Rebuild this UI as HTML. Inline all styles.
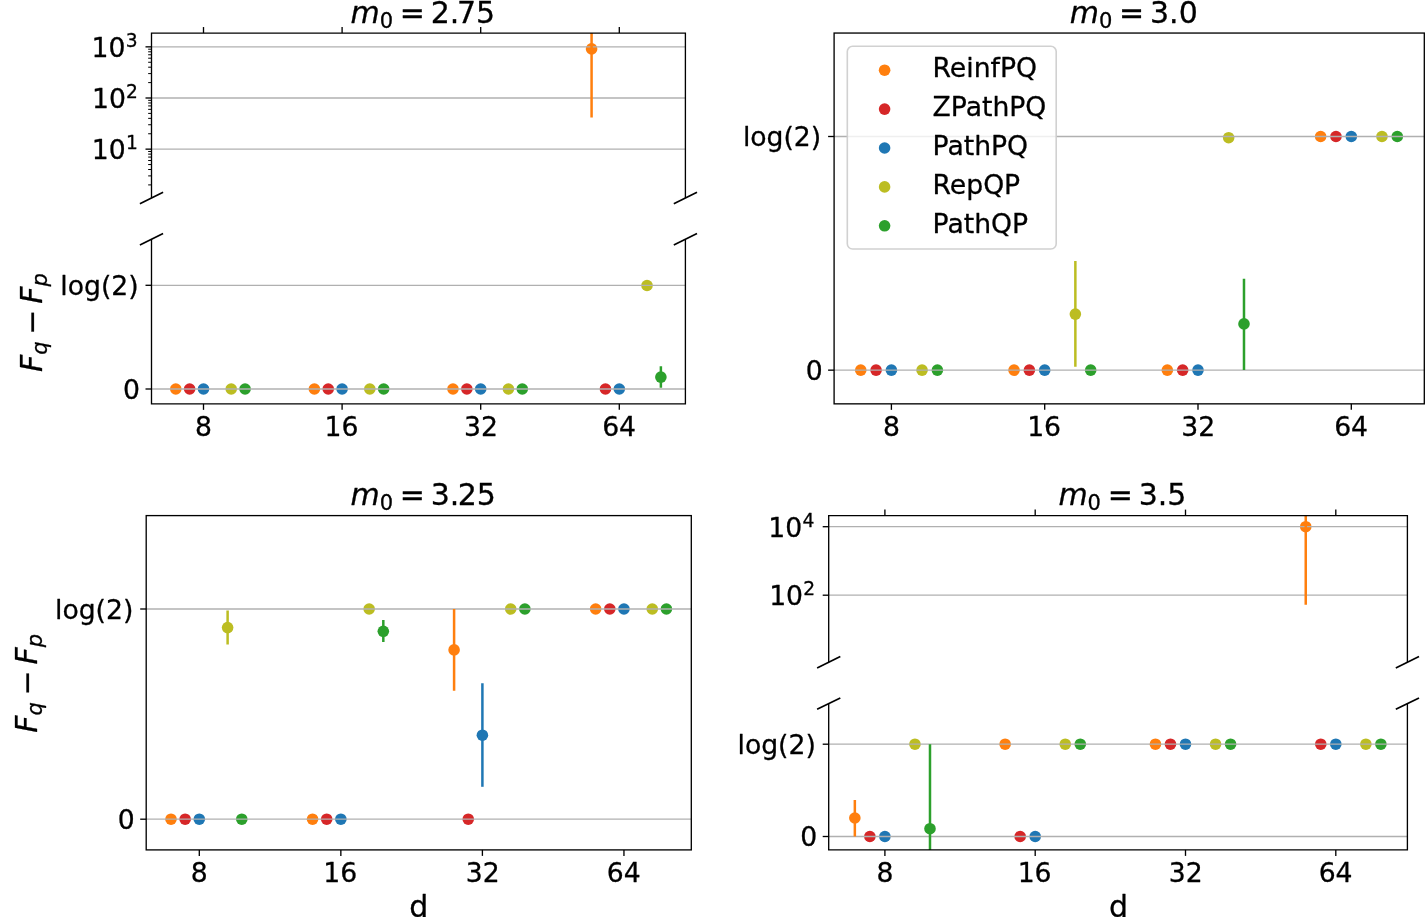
<!DOCTYPE html>
<html lang="en"><head><meta charset="utf-8"><title>F_q - F_p vs d</title>
<style>html,body{margin:0;padding:0;background:#fff}svg{display:block}text{stroke:#000;stroke-width:0.3px;stroke-linejoin:round}</style></head>
<body>
<svg width="1425" height="917" viewBox="0 0 1425 917" font-family="'DejaVu Sans', 'Liberation Sans', sans-serif" fill="#000">
<rect width="1425" height="917" fill="#fff"/>
<clipPath id="c1"><rect x="151.50" y="33.05" width="533.90" height="164.95"/></clipPath>
<g clip-path="url(#c1)">
<circle cx="591.58" cy="48.90" r="5.8" fill="#ff7f0e"/>
</g>
<line x1="151.50" y1="46.85" x2="685.40" y2="46.85" stroke="#b0b0b0" stroke-width="1.333" />
<line x1="151.50" y1="98.00" x2="685.40" y2="98.00" stroke="#b0b0b0" stroke-width="1.333" />
<line x1="151.50" y1="149.15" x2="685.40" y2="149.15" stroke="#b0b0b0" stroke-width="1.333" />
<g clip-path="url(#c1)">
<line x1="591.58" y1="20.00" x2="591.58" y2="117.40" stroke="#ff7f0e" stroke-width="2.5" />
</g>
<clipPath id="c2"><rect x="151.50" y="239.30" width="533.90" height="164.55"/></clipPath>
<g clip-path="url(#c2)">
<circle cx="175.78" cy="389.00" r="5.8" fill="#ff7f0e"/>
<circle cx="189.64" cy="389.00" r="5.8" fill="#d62728"/>
<circle cx="203.50" cy="389.00" r="5.8" fill="#1f77b4"/>
<circle cx="231.22" cy="389.00" r="5.8" fill="#bcbd22"/>
<circle cx="245.08" cy="389.00" r="5.8" fill="#2ca02c"/>
<circle cx="314.38" cy="389.00" r="5.8" fill="#ff7f0e"/>
<circle cx="328.24" cy="389.00" r="5.8" fill="#d62728"/>
<circle cx="342.10" cy="389.00" r="5.8" fill="#1f77b4"/>
<circle cx="369.82" cy="389.00" r="5.8" fill="#bcbd22"/>
<circle cx="383.68" cy="389.00" r="5.8" fill="#2ca02c"/>
<circle cx="452.98" cy="389.00" r="5.8" fill="#ff7f0e"/>
<circle cx="466.84" cy="389.00" r="5.8" fill="#d62728"/>
<circle cx="480.70" cy="389.00" r="5.8" fill="#1f77b4"/>
<circle cx="508.42" cy="389.00" r="5.8" fill="#bcbd22"/>
<circle cx="522.28" cy="389.00" r="5.8" fill="#2ca02c"/>
<circle cx="605.44" cy="389.00" r="5.8" fill="#d62728"/>
<circle cx="619.30" cy="389.00" r="5.8" fill="#1f77b4"/>
<circle cx="647.02" cy="285.50" r="5.8" fill="#bcbd22"/>
<circle cx="660.88" cy="377.10" r="5.8" fill="#2ca02c"/>
</g>
<line x1="151.50" y1="389.00" x2="685.40" y2="389.00" stroke="#b0b0b0" stroke-width="1.333" />
<line x1="151.50" y1="285.30" x2="685.40" y2="285.30" stroke="#b0b0b0" stroke-width="1.333" />
<g clip-path="url(#c2)">
<line x1="660.88" y1="366.30" x2="660.88" y2="387.70" stroke="#2ca02c" stroke-width="2.5" />
</g>
<path d="M151.5 198.0V33.05H685.4V198.0" fill="none" stroke="#000" stroke-width="1.333" stroke-linejoin="miter"/>
<path d="M151.5 239.3V403.85H685.4V239.3" fill="none" stroke="#000" stroke-width="1.333" stroke-linejoin="miter"/>
<line x1="203.50" y1="33.05" x2="203.50" y2="27.05" stroke="#000" stroke-width="1.333" />
<line x1="342.10" y1="33.05" x2="342.10" y2="27.05" stroke="#000" stroke-width="1.333" />
<line x1="480.70" y1="33.05" x2="480.70" y2="27.05" stroke="#000" stroke-width="1.333" />
<line x1="619.30" y1="33.05" x2="619.30" y2="27.05" stroke="#000" stroke-width="1.333" />
<line x1="203.50" y1="403.85" x2="203.50" y2="409.85" stroke="#000" stroke-width="1.333" />
<text x="195.03" y="436.15" font-size="26.667" >8</text>
<line x1="342.10" y1="403.85" x2="342.10" y2="409.85" stroke="#000" stroke-width="1.333" />
<text x="324.54 341.48" y="436.15" font-size="26.667" >16</text>
<line x1="480.70" y1="403.85" x2="480.70" y2="409.85" stroke="#000" stroke-width="1.333" />
<text x="464.07 481.01" y="436.15" font-size="26.667" >32</text>
<line x1="619.30" y1="403.85" x2="619.30" y2="409.85" stroke="#000" stroke-width="1.333" />
<text x="602.17 619.11" y="436.15" font-size="26.667" >64</text>
<line x1="145.50" y1="46.85" x2="151.50" y2="46.85" stroke="#000" stroke-width="1.333" />
<text x="91.60 108.54" y="56.70" font-size="26.667" >10</text>
<text x="125.74" y="46.75" font-size="18.667" >3</text>
<line x1="145.50" y1="98.00" x2="151.50" y2="98.00" stroke="#000" stroke-width="1.333" />
<text x="91.98 108.92" y="107.85" font-size="26.667" >10</text>
<text x="126.12" y="97.90" font-size="18.667" >2</text>
<line x1="145.50" y1="149.15" x2="151.50" y2="149.15" stroke="#000" stroke-width="1.333" />
<text x="91.83 108.77" y="159.00" font-size="26.667" >10</text>
<text x="125.97" y="149.05" font-size="18.667" >1</text>
<line x1="148.17" y1="184.90" x2="151.50" y2="184.90" stroke="#000" stroke-width="1.0" />
<line x1="148.17" y1="175.90" x2="151.50" y2="175.90" stroke="#000" stroke-width="1.0" />
<line x1="148.17" y1="169.50" x2="151.50" y2="169.50" stroke="#000" stroke-width="1.0" />
<line x1="148.17" y1="164.55" x2="151.50" y2="164.55" stroke="#000" stroke-width="1.0" />
<line x1="148.17" y1="160.50" x2="151.50" y2="160.50" stroke="#000" stroke-width="1.0" />
<line x1="148.17" y1="157.07" x2="151.50" y2="157.07" stroke="#000" stroke-width="1.0" />
<line x1="148.17" y1="154.11" x2="151.50" y2="154.11" stroke="#000" stroke-width="1.0" />
<line x1="148.17" y1="151.49" x2="151.50" y2="151.49" stroke="#000" stroke-width="1.0" />
<line x1="148.17" y1="133.75" x2="151.50" y2="133.75" stroke="#000" stroke-width="1.0" />
<line x1="148.17" y1="124.75" x2="151.50" y2="124.75" stroke="#000" stroke-width="1.0" />
<line x1="148.17" y1="118.35" x2="151.50" y2="118.35" stroke="#000" stroke-width="1.0" />
<line x1="148.17" y1="113.40" x2="151.50" y2="113.40" stroke="#000" stroke-width="1.0" />
<line x1="148.17" y1="109.35" x2="151.50" y2="109.35" stroke="#000" stroke-width="1.0" />
<line x1="148.17" y1="105.92" x2="151.50" y2="105.92" stroke="#000" stroke-width="1.0" />
<line x1="148.17" y1="102.96" x2="151.50" y2="102.96" stroke="#000" stroke-width="1.0" />
<line x1="148.17" y1="100.34" x2="151.50" y2="100.34" stroke="#000" stroke-width="1.0" />
<line x1="148.17" y1="82.60" x2="151.50" y2="82.60" stroke="#000" stroke-width="1.0" />
<line x1="148.17" y1="73.60" x2="151.50" y2="73.60" stroke="#000" stroke-width="1.0" />
<line x1="148.17" y1="67.20" x2="151.50" y2="67.20" stroke="#000" stroke-width="1.0" />
<line x1="148.17" y1="62.25" x2="151.50" y2="62.25" stroke="#000" stroke-width="1.0" />
<line x1="148.17" y1="58.20" x2="151.50" y2="58.20" stroke="#000" stroke-width="1.0" />
<line x1="148.17" y1="54.77" x2="151.50" y2="54.77" stroke="#000" stroke-width="1.0" />
<line x1="148.17" y1="51.81" x2="151.50" y2="51.81" stroke="#000" stroke-width="1.0" />
<line x1="148.17" y1="49.19" x2="151.50" y2="49.19" stroke="#000" stroke-width="1.0" />
<line x1="145.50" y1="389.00" x2="151.50" y2="389.00" stroke="#000" stroke-width="1.333" />
<text x="123.03" y="398.80" font-size="26.667" >0</text>
<line x1="145.50" y1="285.30" x2="151.50" y2="285.30" stroke="#000" stroke-width="1.333" />
<text x="60.29 67.69 83.98 100.88 111.27 128.21" y="295.10" font-size="26.667" >log(2)</text>
<line x1="139.90" y1="203.70" x2="163.10" y2="192.30" stroke="#000" stroke-width="1.667" />
<line x1="139.90" y1="245.00" x2="163.10" y2="233.60" stroke="#000" stroke-width="1.667" />
<line x1="673.80" y1="203.70" x2="697.00" y2="192.30" stroke="#000" stroke-width="1.667" />
<line x1="673.80" y1="245.00" x2="697.00" y2="233.60" stroke="#000" stroke-width="1.667" />
<text x="350.50" y="22.70" font-size="30.000" font-style="italic" >m</text>
<text x="379.72" y="27.62" font-size="21.000" >0</text>
<text x="399.75" y="22.70" font-size="30.000" >=</text>
<text x="430.73 449.82 456.98 476.07" y="22.70" font-size="30.000">2.75</text>
<g transform="translate(42.20,372.00) rotate(-90)">
<text x="0.00" y="0.00" font-size="30.000" font-style="italic" >F</text>
<text x="17.26" y="4.92" font-size="21.000" font-style="italic" >q</text>
<text x="37.25" y="0.00" font-size="30.000" >−</text>
<text x="68.23" y="0.00" font-size="30.000" font-style="italic" >F</text>
<text x="85.49" y="4.92" font-size="21.000" font-style="italic" >p</text>
</g>
<clipPath id="c3"><rect x="834.10" y="33.05" width="590.20" height="370.80"/></clipPath>
<g clip-path="url(#c3)">
<circle cx="860.74" cy="370.15" r="5.8" fill="#ff7f0e"/>
<circle cx="876.07" cy="370.15" r="5.8" fill="#d62728"/>
<circle cx="891.40" cy="370.15" r="5.8" fill="#1f77b4"/>
<circle cx="922.06" cy="370.15" r="5.8" fill="#bcbd22"/>
<circle cx="937.39" cy="370.15" r="5.8" fill="#2ca02c"/>
<circle cx="1014.04" cy="370.15" r="5.8" fill="#ff7f0e"/>
<circle cx="1029.37" cy="370.15" r="5.8" fill="#d62728"/>
<circle cx="1044.70" cy="370.15" r="5.8" fill="#1f77b4"/>
<circle cx="1075.36" cy="314.10" r="5.8" fill="#bcbd22"/>
<circle cx="1090.69" cy="370.15" r="5.8" fill="#2ca02c"/>
<circle cx="1167.34" cy="370.15" r="5.8" fill="#ff7f0e"/>
<circle cx="1182.67" cy="370.15" r="5.8" fill="#d62728"/>
<circle cx="1198.00" cy="370.15" r="5.8" fill="#1f77b4"/>
<circle cx="1228.66" cy="137.70" r="5.8" fill="#bcbd22"/>
<circle cx="1243.99" cy="323.90" r="5.8" fill="#2ca02c"/>
<circle cx="1320.64" cy="136.50" r="5.8" fill="#ff7f0e"/>
<circle cx="1335.97" cy="136.50" r="5.8" fill="#d62728"/>
<circle cx="1351.30" cy="136.50" r="5.8" fill="#1f77b4"/>
<circle cx="1381.96" cy="136.50" r="5.8" fill="#bcbd22"/>
<circle cx="1397.29" cy="136.50" r="5.8" fill="#2ca02c"/>
</g>
<line x1="834.10" y1="370.15" x2="1424.30" y2="370.15" stroke="#b0b0b0" stroke-width="1.333" />
<line x1="834.10" y1="136.50" x2="1424.30" y2="136.50" stroke="#b0b0b0" stroke-width="1.333" />
<g clip-path="url(#c3)">
<line x1="1075.36" y1="261.10" x2="1075.36" y2="366.80" stroke="#bcbd22" stroke-width="2.5" />
<line x1="1243.99" y1="278.70" x2="1243.99" y2="370.00" stroke="#2ca02c" stroke-width="2.5" />
</g>
<rect x="834.1" y="33.05" width="590.20" height="370.80" fill="none" stroke="#000" stroke-width="1.333"/>
<line x1="891.40" y1="403.85" x2="891.40" y2="409.85" stroke="#000" stroke-width="1.333" />
<text x="882.93" y="436.15" font-size="26.667" >8</text>
<line x1="1044.70" y1="403.85" x2="1044.70" y2="409.85" stroke="#000" stroke-width="1.333" />
<text x="1027.14 1044.08" y="436.15" font-size="26.667" >16</text>
<line x1="1198.00" y1="403.85" x2="1198.00" y2="409.85" stroke="#000" stroke-width="1.333" />
<text x="1181.37 1198.31" y="436.15" font-size="26.667" >32</text>
<line x1="1351.30" y1="403.85" x2="1351.30" y2="409.85" stroke="#000" stroke-width="1.333" />
<text x="1334.17 1351.11" y="436.15" font-size="26.667" >64</text>
<line x1="828.10" y1="370.15" x2="834.10" y2="370.15" stroke="#000" stroke-width="1.333" />
<text x="805.63" y="379.95" font-size="26.667" >0</text>
<line x1="828.10" y1="136.50" x2="834.10" y2="136.50" stroke="#000" stroke-width="1.333" />
<text x="742.89 750.29 766.58 783.48 793.87 810.81" y="146.30" font-size="26.667" >log(2)</text>
<text x="1069.80" y="22.70" font-size="30.000" font-style="italic" >m</text>
<text x="1099.02" y="27.62" font-size="21.000" >0</text>
<text x="1119.05" y="22.70" font-size="30.000" >=</text>
<text x="1150.03 1169.12 1178.65" y="22.70" font-size="30.000">3.0</text>
<rect x="847.3" y="46.3" width="208.9" height="202.7" rx="5.3" ry="5.3" fill="#fff" fill-opacity="0.8" stroke="#ccc" stroke-opacity="0.9" stroke-width="1.6"/>
<circle cx="884.6" cy="70.20" r="5.8" fill="#ff7f0e"/>
<text x="932.60 949.85 966.23 973.63 990.50 999.88 1015.93" y="77.40" font-size="26.667" >ReinfPQ</text>
<circle cx="884.6" cy="109.10" r="5.8" fill="#d62728"/>
<text x="932.60 950.84 965.65 981.96 992.40 1009.27 1025.33" y="116.30" font-size="26.667" >ZPathPQ</text>
<circle cx="884.6" cy="148.00" r="5.8" fill="#1f77b4"/>
<text x="932.60 947.41 963.72 974.16 991.04 1007.09" y="155.20" font-size="26.667" >PathPQ</text>
<circle cx="884.6" cy="186.90" r="5.8" fill="#bcbd22"/>
<text x="932.60 949.85 966.23 983.13 1004.09" y="194.10" font-size="26.667" >RepQP</text>
<circle cx="884.6" cy="225.80" r="5.8" fill="#2ca02c"/>
<text x="932.60 947.41 963.72 974.16 991.04 1011.99" y="233.00" font-size="26.667" >PathQP</text>
<clipPath id="c4"><rect x="146.20" y="515.60" width="545.10" height="334.30"/></clipPath>
<g clip-path="url(#c4)">
<circle cx="170.99" cy="819.20" r="5.8" fill="#ff7f0e"/>
<circle cx="185.15" cy="819.20" r="5.8" fill="#d62728"/>
<circle cx="199.30" cy="819.20" r="5.8" fill="#1f77b4"/>
<circle cx="227.61" cy="627.60" r="5.8" fill="#bcbd22"/>
<circle cx="241.77" cy="819.20" r="5.8" fill="#2ca02c"/>
<circle cx="312.54" cy="819.20" r="5.8" fill="#ff7f0e"/>
<circle cx="326.70" cy="819.20" r="5.8" fill="#d62728"/>
<circle cx="340.85" cy="819.20" r="5.8" fill="#1f77b4"/>
<circle cx="369.16" cy="609.00" r="5.8" fill="#bcbd22"/>
<circle cx="383.32" cy="631.30" r="5.8" fill="#2ca02c"/>
<circle cx="454.09" cy="649.90" r="5.8" fill="#ff7f0e"/>
<circle cx="468.25" cy="819.20" r="5.8" fill="#d62728"/>
<circle cx="482.40" cy="735.20" r="5.8" fill="#1f77b4"/>
<circle cx="510.71" cy="609.00" r="5.8" fill="#bcbd22"/>
<circle cx="524.87" cy="609.00" r="5.8" fill="#2ca02c"/>
<circle cx="595.64" cy="609.00" r="5.8" fill="#ff7f0e"/>
<circle cx="609.80" cy="609.00" r="5.8" fill="#d62728"/>
<circle cx="623.95" cy="609.00" r="5.8" fill="#1f77b4"/>
<circle cx="652.26" cy="609.00" r="5.8" fill="#bcbd22"/>
<circle cx="666.41" cy="609.00" r="5.8" fill="#2ca02c"/>
</g>
<line x1="146.20" y1="819.20" x2="691.30" y2="819.20" stroke="#b0b0b0" stroke-width="1.333" />
<line x1="146.20" y1="609.00" x2="691.30" y2="609.00" stroke="#b0b0b0" stroke-width="1.333" />
<g clip-path="url(#c4)">
<line x1="227.61" y1="610.50" x2="227.61" y2="644.40" stroke="#bcbd22" stroke-width="2.5" />
<line x1="383.32" y1="620.00" x2="383.32" y2="641.90" stroke="#2ca02c" stroke-width="2.5" />
<line x1="454.09" y1="609.00" x2="454.09" y2="690.80" stroke="#ff7f0e" stroke-width="2.5" />
<line x1="482.40" y1="683.30" x2="482.40" y2="786.80" stroke="#1f77b4" stroke-width="2.5" />
</g>
<rect x="146.2" y="515.6" width="545.10" height="334.30" fill="none" stroke="#000" stroke-width="1.333"/>
<line x1="199.30" y1="849.90" x2="199.30" y2="855.90" stroke="#000" stroke-width="1.333" />
<text x="190.83" y="882.20" font-size="26.667" >8</text>
<line x1="340.85" y1="849.90" x2="340.85" y2="855.90" stroke="#000" stroke-width="1.333" />
<text x="323.29 340.23" y="882.20" font-size="26.667" >16</text>
<line x1="482.40" y1="849.90" x2="482.40" y2="855.90" stroke="#000" stroke-width="1.333" />
<text x="465.77 482.71" y="882.20" font-size="26.667" >32</text>
<line x1="623.95" y1="849.90" x2="623.95" y2="855.90" stroke="#000" stroke-width="1.333" />
<text x="606.82 623.76" y="882.20" font-size="26.667" >64</text>
<line x1="140.20" y1="819.20" x2="146.20" y2="819.20" stroke="#000" stroke-width="1.333" />
<text x="117.73" y="829.00" font-size="26.667" >0</text>
<line x1="140.20" y1="609.00" x2="146.20" y2="609.00" stroke="#000" stroke-width="1.333" />
<text x="54.99 62.39 78.68 95.58 105.97 122.91" y="618.80" font-size="26.667" >log(2)</text>
<text x="350.50" y="505.20" font-size="30.000" font-style="italic" >m</text>
<text x="379.72" y="510.12" font-size="21.000" >0</text>
<text x="399.75" y="505.20" font-size="30.000" >=</text>
<text x="430.73 449.82 457.73 476.82" y="505.20" font-size="30.000">3.25</text>
<g transform="translate(37.20,732.70) rotate(-90)">
<text x="0.00" y="0.00" font-size="30.000" font-style="italic" >F</text>
<text x="17.26" y="4.92" font-size="21.000" font-style="italic" >q</text>
<text x="37.25" y="0.00" font-size="30.000" >−</text>
<text x="68.23" y="0.00" font-size="30.000" font-style="italic" >F</text>
<text x="85.49" y="4.92" font-size="21.000" font-style="italic" >p</text>
</g>
<text x="409.22" y="917.30" font-size="30.000" >d</text>
<clipPath id="c5"><rect x="828.70" y="515.60" width="578.70" height="146.60"/></clipPath>
<g clip-path="url(#c5)">
<circle cx="1305.74" cy="526.70" r="5.8" fill="#ff7f0e"/>
</g>
<line x1="828.70" y1="526.70" x2="1407.40" y2="526.70" stroke="#b0b0b0" stroke-width="1.333" />
<line x1="828.70" y1="595.20" x2="1407.40" y2="595.20" stroke="#b0b0b0" stroke-width="1.333" />
<g clip-path="url(#c5)">
<line x1="1305.74" y1="500.00" x2="1305.74" y2="604.80" stroke="#ff7f0e" stroke-width="2.5" />
</g>
<clipPath id="c6"><rect x="828.70" y="703.60" width="578.70" height="146.30"/></clipPath>
<g clip-path="url(#c6)">
<circle cx="854.84" cy="818.00" r="5.8" fill="#ff7f0e"/>
<circle cx="869.87" cy="836.50" r="5.8" fill="#d62728"/>
<circle cx="884.90" cy="836.50" r="5.8" fill="#1f77b4"/>
<circle cx="914.96" cy="744.20" r="5.8" fill="#bcbd22"/>
<circle cx="929.99" cy="828.70" r="5.8" fill="#2ca02c"/>
<circle cx="1005.14" cy="744.20" r="5.8" fill="#ff7f0e"/>
<circle cx="1020.17" cy="836.50" r="5.8" fill="#d62728"/>
<circle cx="1035.20" cy="836.50" r="5.8" fill="#1f77b4"/>
<circle cx="1065.26" cy="744.20" r="5.8" fill="#bcbd22"/>
<circle cx="1080.29" cy="744.20" r="5.8" fill="#2ca02c"/>
<circle cx="1155.44" cy="744.20" r="5.8" fill="#ff7f0e"/>
<circle cx="1170.47" cy="744.20" r="5.8" fill="#d62728"/>
<circle cx="1185.50" cy="744.20" r="5.8" fill="#1f77b4"/>
<circle cx="1215.56" cy="744.20" r="5.8" fill="#bcbd22"/>
<circle cx="1230.59" cy="744.20" r="5.8" fill="#2ca02c"/>
<circle cx="1320.77" cy="744.20" r="5.8" fill="#d62728"/>
<circle cx="1335.80" cy="744.20" r="5.8" fill="#1f77b4"/>
<circle cx="1365.86" cy="744.20" r="5.8" fill="#bcbd22"/>
<circle cx="1380.89" cy="744.20" r="5.8" fill="#2ca02c"/>
</g>
<line x1="828.70" y1="836.50" x2="1407.40" y2="836.50" stroke="#b0b0b0" stroke-width="1.333" />
<line x1="828.70" y1="744.20" x2="1407.40" y2="744.20" stroke="#b0b0b0" stroke-width="1.333" />
<g clip-path="url(#c6)">
<line x1="854.84" y1="799.90" x2="854.84" y2="836.50" stroke="#ff7f0e" stroke-width="2.5" />
<line x1="929.99" y1="744.20" x2="929.99" y2="870.00" stroke="#2ca02c" stroke-width="2.5" />
</g>
<path d="M828.7 662.2V515.6H1407.4V662.2" fill="none" stroke="#000" stroke-width="1.333"/>
<path d="M828.7 703.6V849.9H1407.4V703.6" fill="none" stroke="#000" stroke-width="1.333"/>
<line x1="884.90" y1="515.60" x2="884.90" y2="509.60" stroke="#000" stroke-width="1.333" />
<line x1="1035.20" y1="515.60" x2="1035.20" y2="509.60" stroke="#000" stroke-width="1.333" />
<line x1="1185.50" y1="515.60" x2="1185.50" y2="509.60" stroke="#000" stroke-width="1.333" />
<line x1="1335.80" y1="515.60" x2="1335.80" y2="509.60" stroke="#000" stroke-width="1.333" />
<line x1="884.90" y1="849.90" x2="884.90" y2="855.90" stroke="#000" stroke-width="1.333" />
<text x="876.43" y="882.20" font-size="26.667" >8</text>
<line x1="1035.20" y1="849.90" x2="1035.20" y2="855.90" stroke="#000" stroke-width="1.333" />
<text x="1017.64 1034.58" y="882.20" font-size="26.667" >16</text>
<line x1="1185.50" y1="849.90" x2="1185.50" y2="855.90" stroke="#000" stroke-width="1.333" />
<text x="1168.87 1185.81" y="882.20" font-size="26.667" >32</text>
<line x1="1335.80" y1="849.90" x2="1335.80" y2="855.90" stroke="#000" stroke-width="1.333" />
<text x="1318.67 1335.61" y="882.20" font-size="26.667" >64</text>
<line x1="822.70" y1="526.70" x2="828.70" y2="526.70" stroke="#000" stroke-width="1.333" />
<text x="768.35 785.29" y="536.55" font-size="26.667" >10</text>
<text x="802.49" y="526.60" font-size="18.667" >4</text>
<line x1="822.70" y1="595.20" x2="828.70" y2="595.20" stroke="#000" stroke-width="1.333" />
<text x="769.18 786.12" y="605.05" font-size="26.667" >10</text>
<text x="803.32" y="595.10" font-size="18.667" >2</text>
<line x1="822.70" y1="836.50" x2="828.70" y2="836.50" stroke="#000" stroke-width="1.333" />
<text x="800.23" y="846.30" font-size="26.667" >0</text>
<line x1="822.70" y1="744.20" x2="828.70" y2="744.20" stroke="#000" stroke-width="1.333" />
<text x="737.49 744.89 761.18 778.08 788.47 805.41" y="754.00" font-size="26.667" >log(2)</text>
<line x1="817.10" y1="667.90" x2="840.30" y2="656.50" stroke="#000" stroke-width="1.667" />
<line x1="817.10" y1="709.30" x2="840.30" y2="697.90" stroke="#000" stroke-width="1.667" />
<line x1="1395.80" y1="667.90" x2="1419.00" y2="656.50" stroke="#000" stroke-width="1.667" />
<line x1="1395.80" y1="709.30" x2="1419.00" y2="697.90" stroke="#000" stroke-width="1.667" />
<text x="1058.40" y="505.20" font-size="30.000" font-style="italic" >m</text>
<text x="1087.62" y="510.12" font-size="21.000" >0</text>
<text x="1107.65" y="505.20" font-size="30.000" >=</text>
<text x="1138.63 1157.72 1167.25" y="505.20" font-size="30.000">3.5</text>
<text x="1108.92" y="917.30" font-size="30.000" >d</text>
</svg>
</body></html>
